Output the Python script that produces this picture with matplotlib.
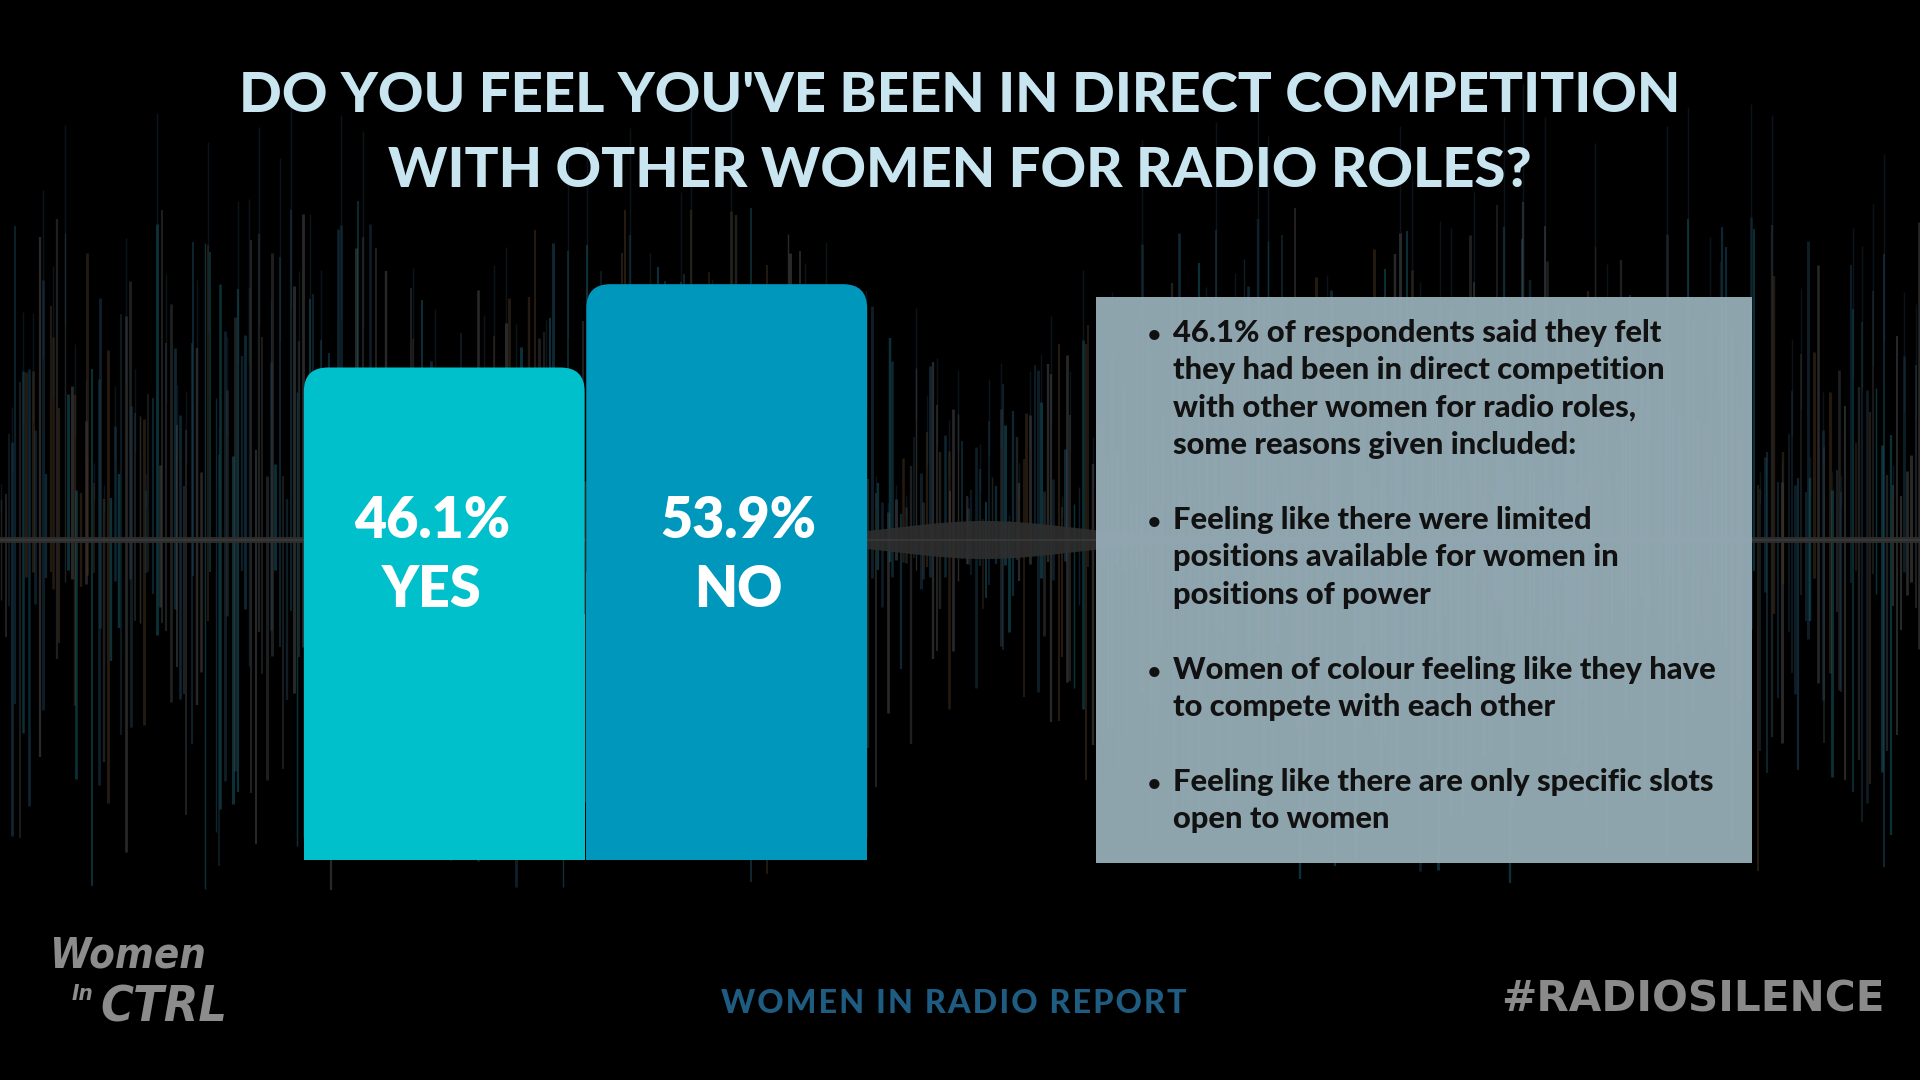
import matplotlib
matplotlib.use('Agg')
import matplotlib.pyplot as plt
from matplotlib.patches import FancyBboxPatch, Rectangle
from matplotlib.collections import LineCollection
import numpy as np

answers = ['YES', 'NO']
shares = [46.1, 53.9]
bar_colors = ['#00C1CB', '#0097BC']

title_lines = ["DO YOU FEEL YOU'VE BEEN IN DIRECT COMPETITION",
               "WITH OTHER WOMEN FOR RADIO ROLES?"]

notes = [
    ['46.1% of respondents said they felt',
     'they had been in direct competition',
     'with other women for radio roles,',
     'some reasons given included:'],
    ['Feeling like there were limited',
     'positions available for women in',
     'positions of power'],
    ['Women of colour feeling like they have',
     'to compete with each other'],
    ['Feeling like there are only specific slots',
     'open to women'],
]

footer_mid = 'WOMEN IN RADIO REPORT'
footer_tag = '#RADIOSILENCE'


def hash01(i, k):
    # deterministic hash, only for the decorative waveform texture
    return (np.sin(i * 12.9898 + k * 78.233) * 43758.5453) % 1.0


def spaced(s):
    return '\u200a'.join(s)


def draw_waveform(bg):
    n = 560
    idx = np.arange(n)
    xs = np.linspace(2, 1918, n) + (hash01(idx, 1) - 0.5) * 3
    env = 1 - 0.55 * np.exp(-((xs - 985) / 130.0) ** 2)
    up = (40 + 300 * hash01(idx, 2) ** 1.5) * env
    down = (30 + 320 * hash01(idx, 3) ** 1.8) * env
    palette = ['#1c4c63', '#3a3f42', '#4a3520', '#1d3b4d', '#505050', '#17606e']
    cols = [palette[int(hash01(i, 4) * len(palette)) % len(palette)] for i in idx]
    segs = [[(x, 540 - u), (x, 540 + d)] for x, u, d in zip(xs, up, down)]
    lc = LineCollection(segs, colors=cols, linewidths=1.0 + hash01(idx, 5) * 1.2,
                        alpha=0.5, zorder=1)
    bg.add_collection(lc)
    segs2 = [[(x, 540 - u * 1.35), (x, 540 - u * 0.7)] for x, u in zip(xs[::3], up[::3])]
    bg.add_collection(LineCollection(segs2, colors='#1a3442', linewidths=1.0, alpha=0.4, zorder=1))
    # central band
    xx = np.linspace(0, 1920, 800)
    thick = 3 + 16 * np.exp(-((xx - 985) / 120.0) ** 2)
    bg.fill_between(xx, 540 - thick, 540 + thick, color='#2e2e2e', alpha=0.9, lw=0, zorder=2)
    bg.plot(xx, np.full_like(xx, 540), color='#3a3a3a', lw=1.2, zorder=2)


fig = plt.figure(figsize=(19.2, 10.8), dpi=100)
fig.patch.set_facecolor('black')

bg = fig.add_axes([0, 0, 1, 1])
bg.set_xlim(0, 1920)
bg.set_ylim(1080, 0)
bg.axis('off')
bg.set_facecolor('black')

draw_waveform(bg)

# title
for k, line in enumerate(title_lines):
    bg.text(960, 112 + 75 * k, line, ha='center', va='baseline', fontsize=40.5,
            family='Lato', fontweight='black', color='#C8E5F0', zorder=6)

# text box
bg.add_patch(Rectangle((1096, 297), 656, 566, fc='#94AAB4', ec='none', alpha=0.97, zorder=5))
row = 0
for para in notes:
    for j, line in enumerate(para):
        y = 342 + 37.4 * row
        if j == 0:
            bg.text(1154, y, '•', ha='center', va='baseline', fontsize=16,
                    family='Lato', fontweight='black', color='#111111', zorder=6)
        bg.text(1173, y, line, ha='left', va='baseline', fontsize=22.2,
                family='Lato', fontweight='black', color='#111111', zorder=6)
        row += 1
    row += 1

# footer
bg.text(954, 1013, spaced(footer_mid), ha='center', va='baseline', fontsize=23.3,
        family=['Lato', 'DejaVu Sans'], fontweight='black', color='#1F5C82', zorder=6)
bg.text(1693, 1011, footer_tag, ha='center', va='baseline', fontsize=30.3,
        family='DejaVu Sans', fontweight='bold', color='#8A8A8A', zorder=6)

# logo
logo = dict(ha='left', va='baseline', family='DejaVu Sans', fontstretch='condensed',
            fontstyle='italic', fontweight='bold', color='#8C8C8C', zorder=6)
bg.text(50, 967, 'Women', fontsize=30, **logo)
bg.text(72, 1000, 'In', fontsize=16, **logo)
bg.text(100, 1022, 'CTRL', fontsize=36, **logo)

# bars
left, right, bottom, top_px = 303, 868, 860, 219
ax = fig.add_axes([left / 1920, (1080 - bottom) / 1080, (right - left) / 1920, (bottom - top_px) / 1080])
ax.set_xlim(-0.5, 1.5)
ax.set_ylim(0, 60)
ax.axis('off')
ax.patch.set_alpha(0)

px_x = (right - left) / 2.0
px_y = (bottom - top_px) / 60.0
radius = 24
bars = ax.bar(range(len(shares)), shares, width=0.994, color=bar_colors)
for b, c in zip(bars, bar_colors):
    x0, w, h = b.get_x(), b.get_width(), b.get_height()
    b.set_visible(False)
    ax.add_patch(FancyBboxPatch((x0, 0), w, h,
                                boxstyle='round,pad=0,rounding_size=%f' % (radius / px_x),
                                mutation_aspect=px_x / px_y, fc=c, ec='none'))
    ax.add_patch(Rectangle((x0, 0), w, h / 2, fc=c, ec='none'))

label_shift = [-0.043, 0.04]
for i, (a, s) in enumerate(zip(answers, shares)):
    ax.text(i + label_shift[i], 30.1, '%.1f%%' % s, ha='center', va='baseline', fontsize=40,
            family='Lato', fontweight='heavy', color='white')
    ax.text(i + label_shift[i], 23.7, a, ha='center', va='baseline', fontsize=40,
            family='Lato', fontweight='heavy', color='white')

fig.savefig('out.png', dpi=100, facecolor='black')
